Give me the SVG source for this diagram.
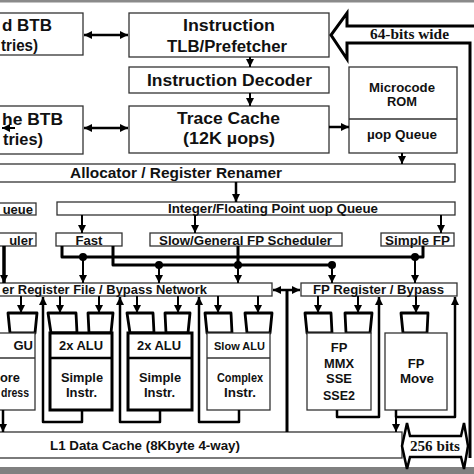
<svg xmlns="http://www.w3.org/2000/svg" width="474" height="474" viewBox="0 0 474 474">
<defs>
<marker id="ah" viewBox="0 0 10 10" refX="10" refY="5" markerWidth="8" markerHeight="8" markerUnits="userSpaceOnUse" orient="auto-start-reverse"><path d="M0,0 L10,5 L0,10 z" fill="#000"/></marker>
</defs>
<style>
.b{fill:#fff;stroke:#333;stroke-width:1.3}
.tb{fill:#fff;stroke:#000;stroke-width:3}
.t{font-family:"Liberation Sans",Arial,sans-serif;font-weight:bold;fill:#111;text-anchor:middle}
.e{text-anchor:end}
.s{font-family:"Liberation Serif","Times New Roman",serif;font-weight:bold;fill:#111;text-anchor:middle}
.c{fill:none;stroke:#000;stroke-width:2.5;stroke-linejoin:round}
.n{fill:none;stroke:#000;stroke-width:2}
.a{marker-end:url(#ah)}
.d{marker-start:url(#ah);marker-end:url(#ah)}
.m{fill:#fff;stroke:#000;stroke-width:2.8;stroke-linejoin:round}
.f16{font-size:16px}.f13{font-size:13px}.f11{font-size:11px}
</style>
<rect width="474" height="474" fill="#fff"/>
<rect x="0" y="0" width="474" height="2.5" fill="#8a8a8a"/>
<rect x="0" y="467" width="474" height="7" fill="#808080"/>

<g id="btb1"><rect class="b" x="-2" y="13" width="85" height="42"/>
<text class="t e f16" x="52" y="31" textLength="50" lengthAdjust="spacingAndGlyphs">d BTB</text>
<text class="t e f16" x="38" y="51" textLength="37" lengthAdjust="spacingAndGlyphs">tries)</text></g>
<g id="btb2"><rect class="b" x="-2" y="106" width="85" height="48"/>
<text class="t e f16" x="63" y="125" textLength="61" lengthAdjust="spacingAndGlyphs">he BTB</text>
<text class="t e f16" x="43" y="145" textLength="40" lengthAdjust="spacingAndGlyphs">tries)</text></g>
<g id="itlb"><rect class="b" x="129" y="13" width="200" height="44"/>
<text class="t f16" x="229" y="31" textLength="92" lengthAdjust="spacingAndGlyphs">Instruction</text>
<text class="t f16" x="227" y="52" textLength="120" lengthAdjust="spacingAndGlyphs">TLB/Prefetcher</text></g>
<g id="decoder"><rect class="b" x="129" y="67" width="200" height="26"/>
<text class="t f16" x="229.5" y="86" textLength="165" lengthAdjust="spacingAndGlyphs">Instruction Decoder</text></g>
<g id="trace"><rect class="b" x="129" y="106" width="200" height="47"/>
<text class="t f16" x="228.5" y="124" textLength="103" lengthAdjust="spacingAndGlyphs">Trace Cache</text>
<text class="t f16" x="229" y="144" textLength="92" lengthAdjust="spacingAndGlyphs">(12K µops)</text></g>
<g id="ucode"><rect class="b" x="349" y="67" width="108" height="86"/><line x1="349" y1="119" x2="457" y2="119" stroke="#333" stroke-width="1.3"/>
<text class="t f13" x="402" y="92" textLength="66" lengthAdjust="spacingAndGlyphs">Microcode</text>
<text class="t f13" x="402" y="106" textLength="30" lengthAdjust="spacingAndGlyphs">ROM</text>
<text class="t f13" x="402" y="139" textLength="70" lengthAdjust="spacingAndGlyphs">µop Queue</text></g>
<g id="alloc"><rect class="b" x="-2" y="164" width="457" height="18"/>
<text class="t" style="font-size:15px" x="176" y="178" textLength="212" lengthAdjust="spacingAndGlyphs">Allocator / Register Renamer</text></g>
<g id="memq"><rect class="b" x="-2" y="203" width="38" height="12"/>
<text class="t e f13" x="33" y="213.5">ueue</text></g>
<g id="intq"><rect class="b" x="57" y="202" width="398" height="13"/>
<text class="t f13" x="273" y="213" textLength="210" lengthAdjust="spacingAndGlyphs">Integer/Floating Point uop Queue</text></g>
<g id="memsched"><rect class="b" x="-2" y="233" width="38" height="13"/>
<text class="t e f13" x="33" y="244.5">uler</text></g>
<g id="fast"><rect class="b" x="56" y="233" width="66" height="13"/>
<text class="t f13" x="89" y="244.5" textLength="27" lengthAdjust="spacingAndGlyphs">Fast</text></g>
<g id="slowsched"><rect class="b" x="150" y="233" width="192" height="13"/>
<text class="t f13" x="245.5" y="244.5" textLength="173" lengthAdjust="spacingAndGlyphs">Slow/General FP Scheduler</text></g>
<g id="simplefp"><rect class="b" x="381" y="233" width="73" height="13"/>
<text class="t f13" x="417.5" y="244.5" textLength="65" lengthAdjust="spacingAndGlyphs">Simple FP</text></g>
<g id="intreg"><rect class="b" x="-2" y="283" width="274" height="13"/>
<text class="t f13" x="104.5" y="294" textLength="205" lengthAdjust="spacingAndGlyphs">er Register File / Bypass Network</text></g>
<g id="fpreg"><rect class="b" x="301" y="283" width="156" height="13"/>
<text class="t f13" x="378.5" y="294" textLength="131" lengthAdjust="spacingAndGlyphs">FP Register / Bypass</text></g>

<g id="agu"><path class="m" d="M8,313 H37 L35,333 H10 Z"/><rect class="b" x="-5" y="333" width="40" height="77"/><line x1="-5" y1="358" x2="35" y2="358" stroke="#333" stroke-width="1.3"/>
<text class="t e f13" x="33" y="350">GU</text><text class="t e f13" x="20" y="382" textLength="20" lengthAdjust="spacingAndGlyphs">ore</text><text class="t e f13" x="29" y="397" textLength="28" lengthAdjust="spacingAndGlyphs">dress</text></g>
<g id="alu1"><path class="m" d="M48,313 H76 L77,333 H51 Z"/><path class="m" d="M88,313 H113 L111,333 H89 Z"/><rect class="tb" x="50" y="333" width="62" height="77"/><line x1="50" y1="358" x2="112" y2="358" stroke="#000" stroke-width="2.5"/>
<text class="t f13" x="81" y="350" textLength="44" lengthAdjust="spacingAndGlyphs">2x ALU</text><text class="t f13" x="82" y="382" textLength="42" lengthAdjust="spacingAndGlyphs">Simple</text><text class="t f13" x="81.5" y="397" textLength="31" lengthAdjust="spacingAndGlyphs">Instr.</text></g>
<g id="alu2"><path class="m" d="M127,313 H153 L154,333 H130 Z"/><path class="m" d="M165,313 H190 L188,333 H166 Z"/><rect class="tb" x="128" y="333" width="64" height="77"/><line x1="128" y1="358" x2="192" y2="358" stroke="#000" stroke-width="2.5"/>
<text class="t f13" x="159" y="350" textLength="44" lengthAdjust="spacingAndGlyphs">2x ALU</text><text class="t f13" x="160" y="382" textLength="42" lengthAdjust="spacingAndGlyphs">Simple</text><text class="t f13" x="159.5" y="397" textLength="31" lengthAdjust="spacingAndGlyphs">Instr.</text></g>
<g id="slowalu"><path class="m" d="M205,313 H231 L232,333 H207 Z"/><path class="m" d="M245,313 H272 L270,333 H247 Z"/><rect class="b" x="207" y="333" width="63" height="77"/><line x1="207" y1="358" x2="270" y2="358" stroke="#333" stroke-width="1.3"/>
<text class="t f11" x="239.5" y="350" textLength="51" lengthAdjust="spacingAndGlyphs">Slow ALU</text><text class="t f13" x="240" y="382" textLength="46" lengthAdjust="spacingAndGlyphs">Complex</text><text class="t f13" x="240" y="397" textLength="32" lengthAdjust="spacingAndGlyphs">Instr.</text></g>
<g id="fpmmx"><path class="m" d="M305,313 H331 L332,333 H307 Z"/><path class="m" d="M345,313 H372 L370,333 H346 Z"/><rect class="b" x="307" y="333" width="64" height="77"/>
<text class="t f13" x="339" y="352">FP</text><text class="t f13" x="339" y="368" textLength="30" lengthAdjust="spacingAndGlyphs">MMX</text><text class="t f13" x="339" y="383">SSE</text><text class="t f13" x="339" y="400" textLength="32" lengthAdjust="spacingAndGlyphs">SSE2</text></g>
<g id="fpmove"><path class="m" d="M401,313 H428 L427,333 H403 Z"/><rect class="b" x="385" y="333" width="62" height="77"/>
<text class="t f13" x="416" y="368">FP</text><text class="t f13" x="417" y="383" textLength="34" lengthAdjust="spacingAndGlyphs">Move</text></g>
<g id="l1"><rect class="b" x="-2" y="432" width="404" height="26"/>
<text class="t f13" x="145" y="450" textLength="190" lengthAdjust="spacingAndGlyphs">L1 Data Cache (8Kbyte 4-way)</text></g>

<g id="bus64"><path d="M480,26 H347 V13 L331,35 L347,59 V43 H470 V458" fill="#fff" stroke="#000" stroke-width="3" stroke-linejoin="miter"/>
<text class="s" style="font-size:14px" x="409.5" y="39" textLength="79" lengthAdjust="spacingAndGlyphs">64-bits wide</text></g>
<g id="bus256"><path d="M410,436 L407,423 L402,446 L407,469 L410,457 H461 L464,469 L468,446 L464,423 L461,436 Z" fill="#fff" stroke="#000" stroke-width="2.5" stroke-linejoin="miter"/>
<text class="s" style="font-size:15px" x="435" y="451" textLength="50" lengthAdjust="spacingAndGlyphs">256 bits</text></g>

<g id="connectors">
<path class="c d" d="M84,35 H128"/>
<path class="c d" d="M84,128 H128"/>
<path class="n a" d="M15,128 H2"/>
<path class="n a" d="M250,57 V67"/>
<path class="n a" d="M250,93 V106"/>
<path class="c a" d="M329,127 H349"/>
<path class="n a" d="M402,153 V164"/>
<path class="c a" d="M236,182 V202"/>
<path class="n a" d="M82,215 V233"/>
<path class="n a" d="M195,215 V233"/>
<path class="n a" d="M441,215 V233"/>
<path class="c a" style="stroke-width:3.5" d="M4,246 V283"/>
<path class="c" style="stroke-width:3" d="M62,246 V257 H423 V246"/>
<path class="c" style="stroke-width:3" d="M113,246 V265 H332"/>
<path class="c" style="stroke-width:3" d="M238,246 V265"/>
<circle cx="83" cy="257" r="4"/><circle cx="159" cy="265" r="4"/><circle cx="238" cy="265" r="4"/><circle cx="332" cy="265" r="4"/><circle cx="415" cy="257" r="4"/>
<path class="n a" d="M83,257 V283"/>
<path class="n a" d="M159,265 V283"/>
<path class="n a" d="M238,265 V283"/>
<path class="n a" d="M332,265 V283"/>
<path class="n a" d="M415,257 V283"/>
<path class="n a" d="M21,296 V313"/>
<path class="n a" d="M60,296 V313"/>
<path class="n a" d="M99,296 V313"/>
<path class="n a" d="M137,296 V313"/>
<path class="n a" d="M178,296 V313"/>
<path class="n a" d="M218,296 V313"/>
<path class="n a" d="M258,296 V313"/>
<path class="n a" d="M318,296 V313"/>
<path class="n a" d="M358,296 V313"/>
<path class="n a" d="M416,296 V313"/>
<path class="c a" d="M82,410 V422 H43 V297"/>
<path class="c a" d="M160,410 V422 H120 V297"/>
<path class="c a" d="M239,410 V422 H199 V297"/>
<path class="c a" d="M337,410 V417 H379 V297"/>
<path class="c a" d="M396,410 V417 H455 V297"/>
<path class="n a" d="M396,417 V432"/>
<path class="c a" d="M3,410 V432"/>
<path class="c d" d="M273,290 H300"/>
<path class="c" style="stroke-width:3" d="M287,290 V432"/>
</g>
</svg>
